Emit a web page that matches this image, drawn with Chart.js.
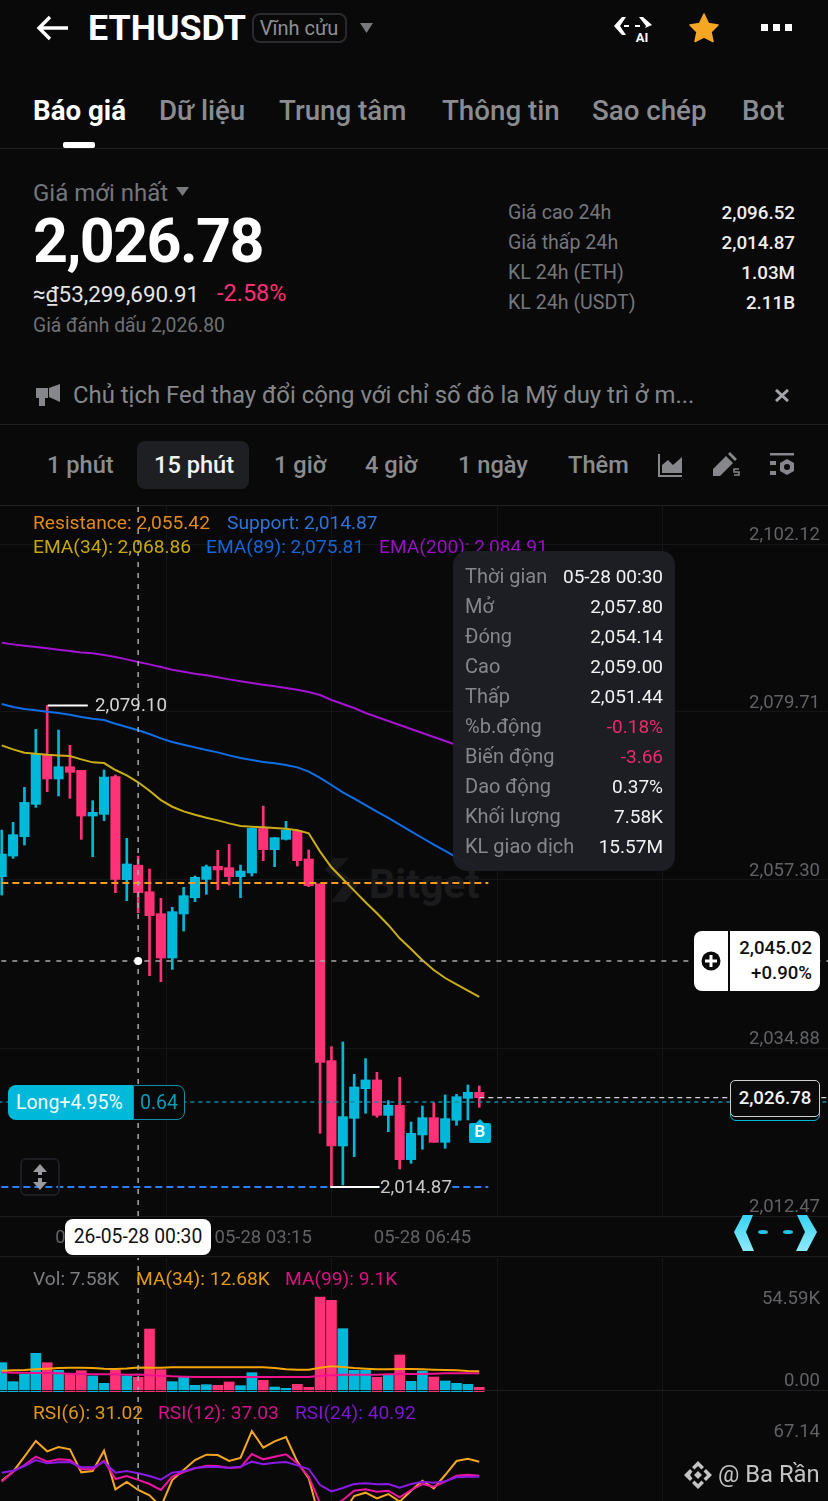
<!DOCTYPE html>
<html>
<head>
<meta charset="utf-8">
<title>ETHUSDT</title>
<script src="https://cdn.jsdelivr.net/npm/chart.js@4/dist/chart.umd.min.js"></script>
<style>
html,body{margin:0;padding:0;background:#09090a;}
#page{position:relative;width:828px;height:1501px;overflow:hidden;background:#09090a;font-family:Roboto,sans-serif;}
canvas{position:absolute;left:0;}
.t{position:absolute;white-space:nowrap;line-height:1;transform:translateY(-50%);}
.r{transform:translate(-100%,-50%);}
.c{transform:translate(-50%,-50%);}
.tab{font-size:27.7px;font-weight:500;color:#8b8c90;top:111px;}
.tf{font-size:23.6px;font-weight:500;color:#8b8c90;top:466px;}
.stat{font-size:19.6px;color:#75777b;left:508px;}
.val{font-size:18.8px;color:#eee;left:795px;font-weight:500;}
.leg{font-size:19.2px;}
.tl{font-size:20px;color:#85878b;left:465px;}
.tv{font-size:19px;color:#f2f2f2;left:663px;}
.box{position:absolute;box-sizing:border-box;}
.hr{position:absolute;left:0;width:828px;height:1px;background:#1f2023;}
svg{position:absolute;}
</style>
</head>
<body>
<div id="page">

  <svg style="left:36px;top:14px" width="32" height="28" viewBox="0 0 32 28"><path d="M14 3 3 14 14 25M3 14H32" fill="none" stroke="#fff" stroke-width="3.4"/></svg>
  <div class="t" style="left:88px;top:29px;font-size:35.8px;font-weight:700;color:#fff">ETHUSDT</div>
  <div class="box" style="left:252px;top:13px;width:95px;height:30px;border:2px solid #2a2b2e;border-radius:8px"></div>
  <div class="t c" style="left:299px;top:28px;font-size:20px;color:#8f9094">Vĩnh cửu</div>
  <svg style="left:360px;top:22px" width="14" height="12"><path d="M0 1H13L6.5 11Z" fill="#77797d"/></svg>
  <svg style="left:612px;top:14px" width="42" height="30" viewBox="0 0 42 30"><path d="M10 3 2 12 10 21H14L8 12 14 3ZM31 3H27L34 12 33 14 40 11Z" fill="#fff"/><path d="M12 12H17M23 12H28" stroke="#fff" stroke-width="2"/></svg>
  <div class="t c" style="left:642px;top:37px;font-size:13px;font-weight:700;color:#fff">AI</div>
  <svg style="left:689px;top:13px" width="30" height="30" viewBox="0 0 30 30"><path d="M15 1 19.5 10.5 29 12 22 19 24 28.5 15 24 6 28.5 8 19 1 12 10.5 10.5Z" fill="#f5a623" stroke="#f5a623" stroke-linejoin="round" stroke-width="1.5"/></svg>
  <svg style="left:761px;top:24px" width="32" height="8"><rect width="7" height="7" fill="#fff"/><rect x="12" width="7" height="7" fill="#fff"/><rect x="24" width="7" height="7" fill="#fff"/></svg>

  <div class="t tab" style="left:33px;color:#fff;font-weight:700">Báo giá</div>
  <div class="t tab" style="left:159px">Dữ liệu</div>
  <div class="t tab" style="left:279px">Trung tâm</div>
  <div class="t tab" style="left:442px">Thông tin</div>
  <div class="t tab" style="left:592px">Sao chép</div>
  <div class="t tab" style="left:742px">Bot</div>
  <div class="box" style="left:63px;top:142px;width:32px;height:6px;background:#fff;border-radius:2px"></div>
  <div class="hr" style="top:148px"></div>

  <div class="t" style="left:33px;top:193px;font-size:24px;color:#74767a">Giá mới nhất</div>
  <svg style="left:176px;top:187px" width="13" height="10"><path d="M0 0H13L6.5 9Z" fill="#77797d"/></svg>
  <div class="t" style="left:33px;top:241px;font-size:61px;font-weight:700;color:#fff;letter-spacing:-1.6px">2,026.78</div>
  <div class="t" style="left:33px;top:294px;font-size:22.4px;color:#e4e4e4">≈₫53,299,690.91</div>
  <div class="t" style="left:217px;top:294px;font-size:23.5px;color:#ff2f72">-2.58%</div>
  <div class="t" style="left:33px;top:326px;font-size:19.3px;color:#6f7175">Giá đánh dấu 2,026.80</div>

  <div class="t stat" style="top:213px">Giá cao 24h</div>
  <div class="t stat" style="top:243px">Giá thấp 24h</div>
  <div class="t stat" style="top:273px">KL 24h (ETH)</div>
  <div class="t stat" style="top:303px">KL 24h (USDT)</div>
  <div class="t r val" style="top:213px">2,096.52</div>
  <div class="t r val" style="top:243px">2,014.87</div>
  <div class="t r val" style="top:273px">1.03M</div>
  <div class="t r val" style="top:303px">2.11B</div>

  <svg style="left:36px;top:383px" width="25" height="25" viewBox="0 0 25 25"><path d="M0 5H12V15H9V23H3V15H0ZM13 5 24 1V19L13 14Z" fill="#85878b"/></svg>
  <div class="t" style="left:73px;top:396px;font-size:23.9px;color:#85878b">Chủ tịch Fed thay đổi cộng với chỉ số đô la Mỹ duy trì ở m...</div>
  <svg style="left:775px;top:389px" width="14" height="13"><path d="M1 1 13 12M13 1 1 12" stroke="#a4a5a8" stroke-width="3"/></svg>
  <div class="hr" style="top:424px"></div>

  <div class="box" style="left:137px;top:441px;width:112px;height:48px;background:#1e1f22;border-radius:8px"></div>
  <div class="t tf" style="left:47px">1 phút</div>
  <div class="t tf" style="left:154px;color:#f2f2f2">15 phút</div>
  <div class="t tf" style="left:274px">1 giờ</div>
  <div class="t tf" style="left:365px">4 giờ</div>
  <div class="t tf" style="left:458px">1 ngày</div>
  <div class="t tf" style="left:568px">Thêm</div>
  <svg style="left:658px;top:454px" width="25" height="24" viewBox="0 0 25 24"><path d="M1 0V22H24" fill="none" stroke="#85878b" stroke-width="2"/><path d="M4 19V11L10 6 15 11 24 3V19Z" fill="#85878b"/></svg>
  <svg style="left:712px;top:452px" width="28" height="26" viewBox="0 0 28 26"><path d="M1 24V17L14 4 21 11 8 24ZM16 2 18 0 25 7 23 9Z" fill="#85878b"/><path d="M27 17H22V20H27V23H22" fill="none" stroke="#85878b" stroke-width="1.5"/></svg>
  <svg style="left:769px;top:453px" width="26" height="24" viewBox="0 0 26 24"><path d="M1 1H25" stroke="#85878b" stroke-width="3"/><path d="M1 10H7M1 20H7" stroke="#85878b" stroke-width="4"/><path d="M18 6 25 10V18L18 22 11 18V10Z" fill="#85878b"/><circle cx="18" cy="14" r="3" fill="#09090a"/></svg>
  <div class="hr" style="top:505px"></div>

  <svg style="left:325px;top:856px" width="42" height="50" viewBox="0 0 42 50"><path d="M8 2H24L12 14 34 28 20 46H6L20 28 0 14Z" fill="#18181a"/></svg>
  <div class="t" style="left:369px;top:884px;font-size:41px;font-weight:700;color:#1b1b1d">Bitget</div>

  <canvas id="priceChart" width="828" height="751" style="top:506px"></canvas>
  <canvas id="volChart" width="828" height="134" style="top:1258px"></canvas>
  <canvas id="rsiChart" width="828" height="110" style="top:1391px"></canvas>

  <div class="hr" style="top:1216px;background:#1c1d20"></div>
  <div class="hr" style="top:1256px;background:#1c1d20"></div>
  <div class="hr" style="top:1390px;background:#1c1d20"></div>

  <div class="t leg" style="left:33px;top:523px;color:#e18a1c">Resistance: 2,055.42</div>
  <div class="t leg" style="left:227px;top:523px;color:#2f74d8">Support: 2,014.87</div>
  <div class="t leg" style="left:33px;top:547px;color:#c4a712">EMA(34): 2,068.86</div>
  <div class="t leg" style="left:206px;top:547px;color:#1565d8">EMA(89): 2,075.81</div>
  <div class="t leg" style="left:379px;top:547px;color:#9a0fc4">EMA(200): 2,084.91</div>

  <div class="box" style="left:453px;top:551px;width:222px;height:320px;background:rgba(30,31,36,.97);border-radius:14px"></div>
  <div class="t tl" style="top:576px">Thời gian</div><div class="t r tv" style="top:576px">05-28 00:30</div>
  <div class="t tl" style="top:606px">Mở</div><div class="t r tv" style="top:606px">2,057.80</div>
  <div class="t tl" style="top:636px">Đóng</div><div class="t r tv" style="top:636px">2,054.14</div>
  <div class="t tl" style="top:666px">Cao</div><div class="t r tv" style="top:666px">2,059.00</div>
  <div class="t tl" style="top:696px">Thấp</div><div class="t r tv" style="top:696px">2,051.44</div>
  <div class="t tl" style="top:726px">%b.động</div><div class="t r tv" style="top:726px;color:#ed2a6b">-0.18%</div>
  <div class="t tl" style="top:756px">Biến động</div><div class="t r tv" style="top:756px;color:#ed2a6b">-3.66</div>
  <div class="t tl" style="top:786px">Dao động</div><div class="t r tv" style="top:786px">0.37%</div>
  <div class="t tl" style="top:816px">Khối lượng</div><div class="t r tv" style="top:816px">7.58K</div>
  <div class="t tl" style="top:846px">KL giao dịch</div><div class="t r tv" style="top:846px">15.57M</div>

  <div class="t" style="left:95px;top:705px;font-size:18.8px;color:#d4d4d4">2,079.10</div>
  <div class="t" style="left:380px;top:1187px;font-size:18.8px;color:#c8c8c8;background:#09090a">2,014.87</div>

  <div class="box" style="left:694px;top:931px;width:126px;height:60px;background:#fff;border-radius:8px"></div>
  <div class="box" style="left:728px;top:931px;width:2px;height:60px;background:#09090a"></div>
  <svg style="left:701px;top:951px" width="20" height="20"><circle cx="10" cy="10" r="9.5" fill="#09090a"/><path d="M10 4V16M4 10H16" stroke="#fff" stroke-width="3"/></svg>
  <div class="t r" style="left:812px;top:948px;font-size:18.6px;font-weight:500;color:#111">2,045.02</div>
  <div class="t r" style="left:812px;top:973px;font-size:18.6px;font-weight:500;color:#111">+0.90%</div>

  <div class="box" style="left:730px;top:1085px;width:90px;height:36px;border:1px solid #00b8d9;border-radius:6px"></div>
  <div class="box" style="left:730px;top:1080px;width:90px;height:37px;background:#09090a;border:1.5px solid #cfcfcf;border-radius:5px"></div>
  <div class="t c" style="left:775px;top:1098px;font-size:18.6px;font-weight:500;color:#f2f2f2">2,026.78</div>

  <div class="box" style="left:133px;top:1085px;width:52px;height:35px;background:#09090a;border:1px solid #0f8fa8;border-radius:0 8px 8px 0"></div>
  <div class="box" style="left:8px;top:1085px;width:125px;height:35px;background:#00b8d9;border-radius:8px 0 0 8px"></div>
  <div class="t" style="left:16px;top:1103px;font-size:19.5px;color:#f2fbfd">Long+4.95%</div>
  <div class="t" style="left:140px;top:1103px;font-size:19.5px;color:#0d9ab6">0.64</div>

  <div class="box" style="left:20px;top:1158px;width:40px;height:38px;border:2px solid #1c1d20;border-radius:6px"></div>
  <svg style="left:32px;top:1164px" width="16" height="26" viewBox="0 0 16 26"><path d="M8 0 15 8H10V11H6V8H1ZM6 14H10V18H15L8 26 1 18H6Z" fill="#9a9b9e"/></svg>

  <svg style="left:468px;top:1118px" width="24" height="26" viewBox="0 0 24 26"><path d="M3 5H8L12 1 16 5H21Q23 5 23 7V23Q23 25 21 25H3Q1 25 1 23V7Q1 5 3 5Z" fill="#00b8d9"/></svg>
  <div class="t c" style="left:480px;top:1131px;font-size:17px;font-weight:700;color:#e8fbff">B</div>

  <div class="box" style="left:65px;top:1219px;width:146px;height:36px;background:#fff;border-radius:8px"></div>
  <div class="t c" style="left:138px;top:1237px;font-size:19.3px;color:#111">26-05-28 00:30</div>

  <svg style="left:733px;top:1214px" width="85" height="38" viewBox="0 0 85 38"><defs><linearGradient id="gem" x1="0" y1="0" x2="0" y2="1"><stop offset="0" stop-color="#35d4f4"/><stop offset="1" stop-color="#8fe9f9"/></linearGradient></defs><path d="M20 1H10L1 18 10 37H21L13 18Z" fill="url(#gem)"/><path d="M64 1H74L84 18 74 37H63L72 18Z" fill="url(#gem)"/><ellipse cx="30" cy="18" rx="5" ry="2" fill="#22c4e4"/><ellipse cx="55" cy="18" rx="5" ry="2" fill="#22c4e4"/></svg>

  <div class="t leg" style="left:33px;top:1279px;color:#7b7d81">Vol: 7.58K</div>
  <div class="t leg" style="left:136px;top:1279px;color:#e59a12">MA(34): 12.68K</div>
  <div class="t leg" style="left:285px;top:1279px;color:#db1183">MA(99): 9.1K</div>
  <div class="t leg" style="left:33px;top:1413px;color:#e0951a">RSI(6): 31.02</div>
  <div class="t leg" style="left:158px;top:1413px;color:#d3128a">RSI(12): 37.03</div>
  <div class="t leg" style="left:295px;top:1413px;color:#7d16d0">RSI(24): 40.92</div>

  <svg style="left:684px;top:1461px" width="28" height="28" viewBox="0 0 28 28" fill="#c4c4c4"><path d="M14 0 20 6 17.500 8.500 14 5 10.500 8.500 8 6ZM6 8 8.500 10.500 6 14 8.500 17.500 6 20 0 14ZM22 8 28 14 22 20 19.500 17.500 23 14 19.500 10.500ZM14 10 18 14 14 18 10 14ZM8 22 10.500 19.500 14 23 17.500 19.500 20 22 14 28Z"/></svg>
  <div class="t" style="left:718px;top:1475px;font-size:23.8px;color:#c4c4c4">@ Ba Rần</div>
</div>

<script>
// candles 15m, index 12 is the 05-28 00:30 bar
const opens = [2056.27,2059.02,2061.60,2065.92,2072.50,2069.30,2070.94,2070.45,2064.36,2064.58,2069.61,2055.87,2057.80,2054.26,2051.33,2045.42,2051.29,2053.46,2055.91,2057.65,2057.47,2056.27,2056.76,2062.71,2059.87,2061.25,2062.40,2058.63,2055.30,2031.73,2020.34,2024.03,2027.99,2029.15,2024.43,2025.77,2018.52,2021.81,2024.12,2020.83,2023.77,2026.70,2027.50];
const closes = [2059.29,2061.87,2066.18,2072.63,2069.30,2070.94,2070.19,2064.36,2064.85,2069.56,2055.91,2057.96,2054.14,2051.06,2045.42,2051.60,2053.73,2056.18,2057.60,2057.16,2056.27,2057.02,2062.71,2059.87,2061.47,2062.49,2058.40,2055.07,2031.50,2020.34,2024.26,2028.21,2029.15,2024.43,2025.77,2018.52,2022.03,2024.12,2020.83,2023.99,2026.92,2027.50,2026.78];
const highs = [2062.49,2063.51,2068.18,2075.92,2079.10,2075.83,2073.79,2070.45,2066.41,2070.50,2069.83,2061.38,2059.00,2057.29,2053.38,2052.18,2054.84,2056.36,2057.82,2059.78,2060.58,2057.82,2062.80,2065.69,2061.51,2063.65,2062.49,2059.83,2055.30,2033.59,2034.22,2029.90,2031.99,2030.17,2026.39,2029.50,2023.54,2025.68,2026.12,2027.15,2027.23,2028.48,2028.35];
const lows = [2053.82,2058.71,2060.49,2065.52,2067.61,2067.03,2066.72,2061.25,2058.93,2063.74,2054.13,2053.06,2051.44,2043.06,2042.26,2043.90,2049.02,2052.93,2053.91,2054.53,2055.15,2053.46,2056.36,2058.40,2057.60,2061.16,2057.69,2054.94,2022.03,2014.87,2015.14,2018.92,2024.70,2024.17,2022.25,2017.27,2018.03,2019.90,2020.83,2020.03,2023.10,2023.81,2025.50];

const ema34 = [2073.79,2073.25,2072.81,2072.68,2072.54,2072.45,2072.36,2071.92,2071.52,2071.43,2070.50,2069.79,2068.86,2067.74,2066.49,2065.60,2064.98,2064.54,2064.14,2063.78,2063.38,2063.03,2062.94,2062.85,2062.76,2062.67,2062.45,2062.05,2059.61,2057.52,2055.96,2054.41,2052.85,2051.38,2049.83,2048.05,2046.62,2045.11,2043.82,2042.75,2041.91,2041.06,2040.22];
const ema89 = [2079.30,2078.90,2078.63,2078.46,2078.28,2078.10,2077.88,2077.57,2077.35,2077.17,2076.68,2076.23,2075.81,2075.30,2074.72,2074.23,2073.88,2073.52,2073.16,2072.85,2072.45,2072.10,2071.83,2071.56,2071.39,2071.16,2070.85,2070.28,2069.44,2068.50,2067.52,2066.68,2065.83,2064.95,2064.10,2063.21,2062.32,2061.43,2060.54,2059.70,2058.85,2058.05,2057.34];
const ema200 = [2087.48,2087.26,2087.08,2086.91,2086.73,2086.55,2086.37,2086.19,2086.06,2085.84,2085.57,2085.26,2084.91,2084.59,2084.24,2083.88,2083.62,2083.35,2083.13,2082.86,2082.59,2082.33,2082.10,2081.88,2081.66,2081.44,2081.21,2080.90,2080.50,2079.84,2079.30,2078.77,2078.10,2077.57,2077.04,2076.50,2075.97,2075.43,2074.90,2074.37,2073.83,2073.30,2072.77];

const volumes = [15.16,5.34,9.13,19.99,15.16,11.20,9.48,11.03,8.27,4.48,11.20,8.27,7.58,32.56,11.54,5.34,7.58,3.45,3.79,3.45,5.17,3.27,9.99,6.03,2.58,1.90,3.96,2.41,49.11,47.38,32.74,11.20,11.20,7.58,8.96,19.13,5.51,10.85,7.75,5.69,4.48,3.96,2.41];
const volMa34 = [11.03,11.20,11.37,11.72,12.06,12.41,12.58,12.58,12.41,12.06,11.89,12.20,12.68,12.60,12.58,12.75,12.75,12.75,12.75,12.75,12.75,12.75,12.75,12.75,12.41,11.72,11.54,11.54,12.58,13.27,12.92,12.41,12.06,11.72,11.72,11.89,11.89,11.72,11.54,11.37,11.20,10.85,10.68];
const volMa99 = [10.17,9.99,9.99,9.82,9.82,9.65,9.48,9.30,9.13,9.13,9.13,8.96,9.10,8.62,8.44,8.10,7.93,7.75,7.75,7.75,7.75,7.75,7.75,7.75,7.75,7.75,7.75,7.75,8.44,8.62,8.96,8.96,8.96,8.96,9.13,9.30,9.30,9.30,9.48,9.65,9.65,9.65,9.65];

const rsi6 = [36.56,41.91,50.82,60.13,53.99,56.56,55.18,41.51,42.31,54.38,31.42,35.77,31.02,27.85,21.12,36.96,42.90,48.84,52.01,51.81,48.25,50.03,66.07,56.17,59.93,62.50,47.85,37.95,13.20,9.24,17.16,27.46,29.44,26.07,28.64,24.09,30.62,36.56,32.01,39.93,48.25,49.63,47.85];
const rsi12 = [35.97,41.91,45.87,50.82,47.85,49.24,48.84,43.30,43.30,48.44,37.55,39.34,37.03,34.58,31.02,38.94,41.71,43.89,45.47,45.28,44.09,44.48,52.40,49.24,50.82,52.21,46.86,38.94,23.10,21.12,25.08,30.62,31.42,30.03,30.62,26.66,31.02,34.58,33.00,35.97,39.54,40.13,39.54];
const rsi24 = [41.32,42.50,45.28,48.84,46.86,47.45,47.65,44.48,44.48,47.85,41.32,42.31,40.92,39.34,37.16,41.32,42.11,44.09,44.68,44.68,44.29,44.88,47.85,46.27,47.26,47.65,45.67,43.49,33.99,30.23,32.21,34.58,34.98,34.39,34.58,32.41,34.58,35.97,35.38,36.17,38.54,38.94,38.94];

const priceTicks = [2102.12,2079.71,2057.30,2034.88,2012.47];
const volTicks = [54.59,0];
const rsiTicks = [67.14];
const timeTicks = [9,23,37];
const timeLabels = ['05-28 23:45','05-28 03:15','05-28 06:45'];
const gridTicks = [14.49,29.02,43.58,58.14];

const resistance = 2055.42, support = 2014.87, entryPrice = 2026.21, lastPrice = 2026.78, crossPrice = 2045.02, peak = 2079.10;
const crossIndex = 12;

const CYAN = '#00b8d9', PINK = '#ff3278', GRID = '#141517', TICK = '#606266';
const FONT = 'Roboto, sans-serif';
const xMin = -0.15, xMax = 72.67;
const labels = closes.map((c, i) => i);
const candleColors = closes.map((c, i) => c >= opens[i] ? CYAN : PINK);

Chart.defaults.font.family = FONT;
Chart.defaults.animation = false;

function flatAxis(ax) {
  ax.paddingTop = 0; ax.paddingBottom = 0; ax.paddingLeft = 0; ax.paddingRight = 0;
}

function line(data, color, order, extra) {
  return Object.assign({type: 'line', data: data, borderColor: color, borderWidth: 2, pointRadius: 0, tension: 0, order: order, xAxisID: 'x', yAxisID: 'y'}, extra);
}

function xAxis(withLabels) {
  return {
    type: 'linear', min: xMin, max: xMax, offset: false, position: 'bottom',
    border: {display: false},
    grid: {offset: false, drawTicks: false, color: c => gridTicks.includes(c.tick.value) ? GRID : 'transparent'},
    afterBuildTicks: a => { a.ticks = (withLabels ? timeTicks.concat(gridTicks) : gridTicks).map(v => ({value: v})); },
    ticks: {
      display: withLabels, autoSkip: false, maxRotation: 0, minRotation: 0, padding: 11,
      color: TICK, font: {size: 18.5},
      callback: v => { const k = timeTicks.indexOf(v); return k >= 0 ? timeLabels[k] : ''; }
    },
    afterFit: a => { flatAxis(a); a.height = withLabels ? 41 : 0; }
  };
}

function yAxis(min, max, values, fmt, labelOffset) {
  return {
    type: 'linear', axis: 'y', position: 'right', min: min, max: max,
    border: {display: false},
    grid: {display: false, drawTicks: false},
    afterBuildTicks: a => { a.ticks = values.map(v => ({value: v})); },
    ticks: {mirror: true, padding: -8, labelOffset: labelOffset, color: TICK, font: {size: 18.5}, autoSkip: false, callback: fmt},
    afterFit: a => { flatAxis(a); a.width = 0; }
  };
}

function hiddenY(min, max, values) {
  return {
    type: 'linear', axis: 'y', position: 'right', min: min, max: max,
    border: {display: false},
    grid: {color: GRID, drawTicks: false},
    afterBuildTicks: a => { a.ticks = values.map(v => ({value: v})); },
    ticks: {display: false},
    afterFit: a => { flatAxis(a); a.width = 0; }
  };
}

const baseOptions = {
  responsive: false,
  maintainAspectRatio: false,
  animation: false,
  layout: {padding: 0, autoPadding: false},
  events: [],
  plugins: {legend: {display: false}, tooltip: {enabled: false}, title: {display: false}}
};

// price pane
const priceMin = 2011.0, priceMax = 2105.72;
new Chart(document.getElementById('priceChart'), {
  type: 'bar',
  data: {
    labels: labels,
    datasets: [
      {type: 'bar', data: lows.map((l, i) => [l, highs[i]]), backgroundColor: candleColors, barThickness: 2, grouped: false, order: 6, xAxisID: 'x', yAxisID: 'y'},
      {type: 'bar', data: opens.map((o, i) => [o, closes[i]]), backgroundColor: candleColors, barThickness: 9.4, minBarLength: 2, grouped: false, order: 5, xAxisID: 'x', yAxisID: 'y'},
      line(ema200, '#a313d0', 4),
      line(ema89, '#0f6fe8', 4),
      line(ema34, '#c9ae16', 4),
      line([{x: -1, y: resistance}, {x: 42.8, y: resistance}], '#f59a1d', 3, {borderDash: [7, 4]}),
      line([{x: -1, y: support}, {x: 42.8, y: support}], '#2d7ff9', 3, {borderDash: [7, 4]}),
      line([{x: -1, y: entryPrice}, {x: 73, y: entryPrice}], '#0e8ba3', 3, {borderWidth: 1.4, borderDash: [4, 4]}),
      line([{x: 42, y: lastPrice}, {x: 73, y: lastPrice}], '#d8d8d8', 3, {borderWidth: 1.2, borderDash: [5, 4]}),
      line([{x: -1, y: crossPrice}, {x: 73, y: crossPrice}], '#a8a8a8', 2, {borderWidth: 1.5, borderDash: [5, 6]}),
      line([{x: crossIndex, y: priceMin}, {x: crossIndex, y: priceMax}], '#a8a8a8', 2, {borderWidth: 1.5, borderDash: [5, 6]}),
      line([{x: 4.05, y: peak}, {x: 7.57, y: peak}], '#ffffff', 1),
      line([{x: 28.9, y: support}, {x: 33.2, y: support}], '#ffffff', 1),
      line([{x: crossIndex, y: crossPrice}], '#ffffff', 0, {pointRadius: 4, pointBackgroundColor: '#ffffff', borderWidth: 0})
    ]
  },
  options: Object.assign({}, baseOptions, {
    scales: {
      x: xAxis(true),
      y: yAxis(priceMin, priceMax, priceTicks, v => v.toLocaleString('en-US', {minimumFractionDigits: 2}), 2),
      yGrid: hiddenY(priceMin, priceMax, priceTicks.map(v => v - 1.47))
    }
  })
});

// volume pane
const volMax = 69.28;
new Chart(document.getElementById('volChart'), {
  type: 'bar',
  data: {
    labels: labels,
    datasets: [
      {type: 'bar', data: volumes, backgroundColor: candleColors, barThickness: 10, grouped: false, order: 5, xAxisID: 'x', yAxisID: 'y'},
      line(volMa34, '#f7a600', 3),
      line(volMa99, '#f0128f', 3),
      line([{x: crossIndex, y: 0}, {x: crossIndex, y: volMax}], '#a8a8a8', 1, {borderWidth: 1.5, borderDash: [5, 6]})
    ]
  },
  options: Object.assign({}, baseOptions, {
    scales: {
      x: xAxis(false),
      y: {type: 'linear', position: 'right', min: 0, max: volMax, display: false},
      // tick labels sit on their own scale, they don't line up with the bars in the source
      yLabels: yAxis(-8.66, 80.59, volTicks, v => v > 0 ? v.toFixed(2) + 'K' : '0.00', 2)
    }
  })
});

// rsi pane
const rsiMin = 24.49, rsiMax = 89.83;
new Chart(document.getElementById('rsiChart'), {
  type: 'line',
  data: {
    labels: labels,
    datasets: [
      line(rsi6, '#f5a623', 4),
      line(rsi12, '#ee14a0', 3),
      line(rsi24, '#8a1be6', 2),
      line([{x: crossIndex, y: rsiMin}, {x: crossIndex, y: rsiMax}], '#a8a8a8', 1, {borderWidth: 1.5, borderDash: [5, 6]})
    ]
  },
  options: Object.assign({}, baseOptions, {
    scales: {
      x: xAxis(false),
      y: yAxis(rsiMin, rsiMax, rsiTicks, v => v.toFixed(2), 3)
    }
  })
});
</script>
</body>
</html>
